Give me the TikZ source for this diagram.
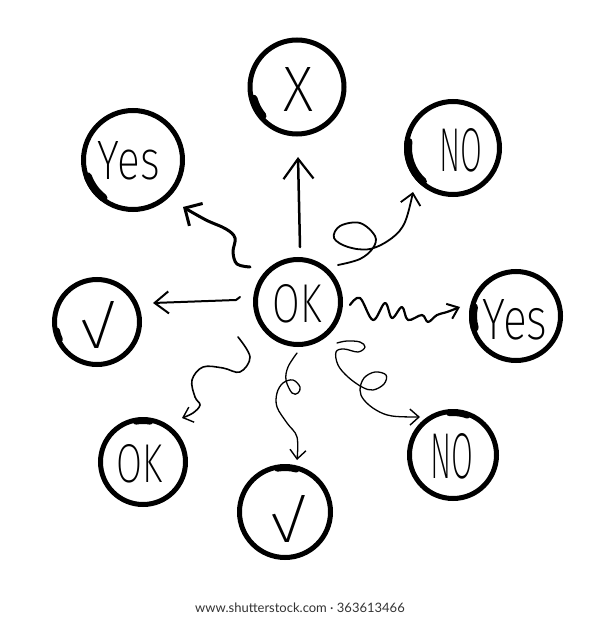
\documentclass[tikz,border=0pt]{standalone}
\usepackage{fontspec}
\usepackage{graphicx}
\setmainfont{Liberation Sans}
\IfFontExistsTF{Fira Sans ExtraLight}{\newfontfamily\thinf{Fira Sans ExtraLight}}{%
  \IfFontExistsTF{Lato Light}{\newfontfamily\thinf{Lato Light}}{\newfontfamily\thinf{Liberation Sans}}}
\newfontfamily\footf{Lato}
\newcommand\mychk{\thinf √}
\usetikzlibrary{arrows.meta,calc}
\tikzset{
 ring/.style={draw=black, circle, line width=5pt, inner sep=0pt, outer sep=0pt},
 lbl/.style={inner sep=0pt, font=\thinf},
 blob/.style={line width=8pt, line cap=round},
 conn/.style={line width=1.4pt, line cap=round, line join=round, -{Straight Barb[length=9pt,width=16pt,line width=1.4pt]}},
}
\begin{document}
\begin{tikzpicture}[x=1pt,y=1pt]
\useasboundingbox (0,0) rectangle (600,-620);
\fill[white] (0,0) rectangle (600,-620);
% rings
\node[ring,minimum size=85pt] (ok) at (298,-302) {};
\node[ring,minimum size=94pt] (nX) at (297,-87) {};
\node[ring,minimum size=99pt] (yesA) at (133,-160) {};
\node[ring,minimum size=93pt] (noA) at (453,-148) {};
\node[ring,minimum size=85pt] (chkL) at (97,-322) {};
\node[ring,minimum size=89pt] (yesB) at (516,-316) {};
\node[ring,minimum size=85pt] (okB) at (143,-462) {};
\node[ring,minimum size=91pt] (chkB) at (285,-512) {};
\node[ring,minimum size=87pt] (noB) at (453,-455) {};
% thick hand-drawn patches
\draw[blob] ($(nX)+(195:45)$) arc[start angle=195,end angle=220,radius=45];
\draw[blob] ($(yesA)+(200:48)$) arc[start angle=200,end angle=232,radius=48];
\draw[blob] ($(noA)+(172:45)$) arc[start angle=172,end angle=228,radius=45];
\draw[blob] ($(yesB)+(168:43)$) arc[start angle=168,end angle=196,radius=43];
\draw[blob,line width=6pt] ($(chkL)+(192:41)$) arc[start angle=192,end angle=205,radius=41];
\draw[blob,line width=6pt] ($(okB)+(80:41)$) arc[start angle=80,end angle=100,radius=41];
\draw[blob,line width=6pt] ($(chkB)+(75:44)$) arc[start angle=75,end angle=100,radius=44];
\draw[blob,line width=6pt] ($(noB)+(70:42)$) arc[start angle=70,end angle=95,radius=42];
% labels
\node[lbl] (okT) at (297,-304) {\resizebox{49pt}{38pt}{OK}};
\node[lbl] (nXT) at (298,-90) {\resizebox{30pt}{44pt}{X}};
\node[lbl] (yesAT) at (129,-161) {\resizebox{62pt}{38pt}{Yes}};
\node[lbl] (noAT) at (461,-150) {\resizebox{43pt}{43pt}{NO}};
\begin{scope}
  \clip ($(chkL)+(-40,-40)$) rectangle ($(chkL)+(40,20.5)$);
  \node[lbl] (chkLT) at (98,-323) {\resizebox*{40pt}{50pt}{\mychk}};
\end{scope}
\node[lbl] (yesBT) at (515,-320) {\resizebox{65pt}{40pt}{Yes}};
\node[lbl] (okBT) at (140,-464) {\resizebox{46pt}{38pt}{OK}};
\begin{scope}
  \clip ($(chkB)+(-40,-44)$) rectangle ($(chkB)+(40,16.5)$);
  \node[lbl] (chkBT) at (288,-517) {\resizebox*{41pt}{50pt}{\mychk}};
\end{scope}
\node[lbl] (noBT) at (452,-456) {\resizebox{43pt}{45pt}{NO}};
% connectors
\draw[conn, line width=2.5pt, -{Straight Barb[length=20pt,width=30pt,line width=2.2pt]}]
  ($(ok)+(2,55)$) -- ($(nX)+(1,-70)$);
\draw[conn, line width=3pt, -{Straight Barb[length=13pt,width=26pt,line width=3pt]}]
  plot[smooth, tension=0.6] coordinates {($(ok)+(-48,35)$) (237,-264) (233,-252) (235,-238) (226,-229) (206,-220) ($(yesA)+(50,-47)$)};
\draw[conn, line width=1.8pt, -{Straight Barb[length=11pt,width=20pt,line width=1.8pt]}]
  plot[smooth, tension=0.6] coordinates {($(ok)+(40,37)$) (360,-259) (373,-248) (375,-236) (360,-223) (340,-226) (334,-238) (348,-247) (370,-249) (392,-238) (405,-222) ($(noA)+(-40,-44)$)};
\draw[conn, line width=2pt, -{Straight Barb[length=14pt,width=22pt,line width=2pt]}]
  ($(ok)+(-58,5)$) -- (236,-300) -- ($(chkL)+(56,19)$);
\draw[conn, line width=2.2pt, -{Straight Barb[length=10pt,width=16pt,line width=2pt]}]
  plot[smooth, tension=0.6] coordinates {($(ok)+(52,-3)$) (360,-298) (373,-320) (385,-303) (392,-318) (402,-307) (408,-320) (422,-315) (428,-322) (437,-315) (447,-312) ($(yesB)+(-56,9)$)};
\draw[conn, line width=1.6pt]
  plot[smooth, tension=0.6] coordinates {($(ok)+(-60,-35)$) (250,-357) (240,-372) (223,-368) (203,-367) (192,-380) (195,-397) (200,-405) (193,-413) ($(okB)+(39,44)$)};
\draw[conn, line width=1.3pt]
  plot[smooth, tension=0.6] coordinates {($(ok)+(-1,-51)$) (288,-367) (286,-380) (292,-393) (298,-393) (300,-387) (293,-380) (283,-383) (277,-393) (277,-407) (287,-423) (297,-437) ($(chkB)+(12,52)$)};
\draw[conn, line width=1.3pt]
  plot[smooth, tension=0.6] coordinates {($(ok)+(39,-41)$) (347,-341) (360,-342) (365,-347) (358,-352) (344,-349) (336,-352) (338,-365) (348,-377) (362,-387) (373,-390) (384,-384) (386,-375) (375,-372) (364,-378) (360,-390) (364,-400) (376,-410) (392,-416) ($(noB)+(-33,38)$)};
% footer
\node[inner sep=0pt, text=black!80, font=\footf\fontsize{13}{15}\selectfont] (foot) at (300,-608) {www.shutterstock.com · 363613466};
\end{tikzpicture}
\end{document}
